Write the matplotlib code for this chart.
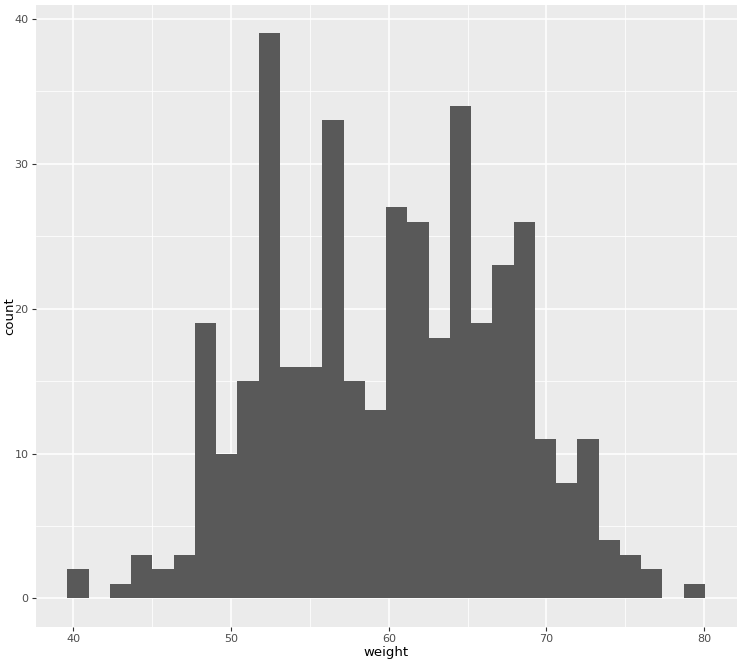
import numpy as np
import matplotlib
matplotlib.use("Agg")
import matplotlib.pyplot as plt

# histogram of weight, 30 bins
bin_lo = 39.62
bin_hi = 80.04
counts = [2, 0, 1, 3, 2, 3, 19, 10, 15, 39,
          16, 16, 33, 15, 13, 27, 26, 18, 34, 19,
          23, 26, 11, 8, 11, 4, 3, 2, 0, 1]
x_ticks = [40, 50, 60, 70, 80]
y_ticks = [0, 10, 20, 30, 40]

edges = np.linspace(bin_lo, bin_hi, len(counts) + 1)

fig = plt.figure(figsize=(7.43, 6.62), dpi=100)
ax = fig.add_axes([0.0478, 0.0533, 0.9437, 0.9391])
ax.set_facecolor("#EBEBEB")

# grid like ggplot theme_grey
for v in [45, 55, 65, 75]:
    ax.axvline(v, color="white", lw=0.55, zorder=0)
for v in [5, 15, 25, 35]:
    ax.axhline(v, color="white", lw=0.55, zorder=0)
for v in x_ticks:
    ax.axvline(v, color="white", lw=1.1, zorder=0)
for v in y_ticks:
    ax.axhline(v, color="white", lw=1.1, zorder=0)

ax.bar(edges[:-1], counts, width=np.diff(edges), align="edge",
       color="#595959", linewidth=0, zorder=2)

span = bin_hi - bin_lo
ax.set_xlim(bin_lo - 0.05 * span, bin_hi + 0.05 * span)
ax.set_ylim(-0.05 * max(counts), max(counts) * 1.05)

ax.set_xticks(x_ticks)
ax.set_yticks(y_ticks)
ax.tick_params(colors="#333333", labelcolor="#4D4D4D", labelsize=8,
               length=3, width=0.8, pad=2)
for s in ax.spines.values():
    s.set_visible(False)

ax.set_xlabel("weight", fontsize=9.5, labelpad=2)
ax.set_ylabel("count", fontsize=9.5)
ax.yaxis.set_label_coords(-0.028, 0.5)

fig.savefig("out.png", dpi=100)
